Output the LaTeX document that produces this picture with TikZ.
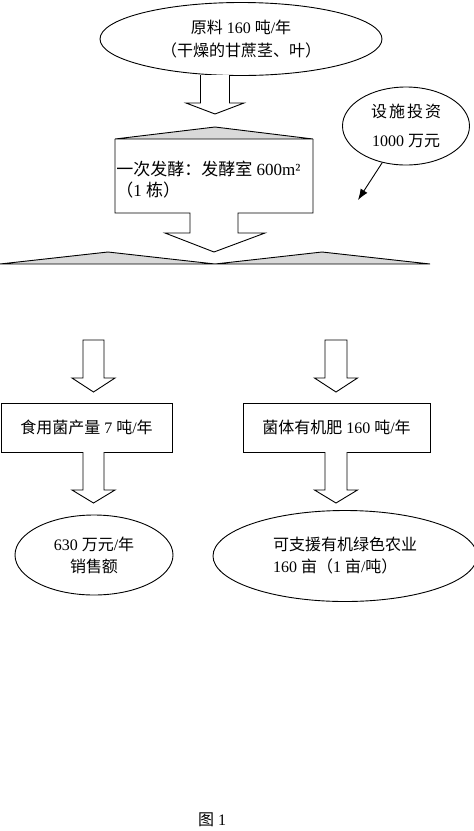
\documentclass[tikz,border=0pt]{standalone}
\usepackage{fontspec}
\setmainfont{Liberation Serif}
\newfontfamily\cjk{Noto Sans CJK SC}
\usepackage{tikz}
\usetikzlibrary{arrows,arrows.meta,shapes.geometric}
\newcommand{\zh}[1]{{\cjk #1}}
% block arrow: centre x, top y, head y, shaft half, head half, tip y
\newcommand{\fatarrow}[6]{\draw[arrowbody] (#1-#4,#2) -- (#1-#4,#3) -- (#1-#5,#3) -- (#1,#6) -- (#1+#5,#3) -- (#1+#4,#3) -- (#1+#4,#2)}

\begin{document}
\begin{tikzpicture}[x=1pt,y=-1pt,line width=0.9pt]
	\tikzset{every node/.style={font=\fontsize{16}{22}\selectfont, inner sep=0pt}}
	\tikzstyle{oval}=[draw, ellipse, align=center]
	\tikzstyle{plainbox}=[draw, rectangle, align=center]
	\tikzstyle{arrowbody}=[draw, fill=white, line join=miter]
	\tikzstyle{roof}=[draw, fill=gray!30]
	\useasboundingbox (0,0) rectangle (474,831);
	% top oval
	\draw (241,39) node (raw) [oval, minimum width=282, minimum height=73] {\zh{原料} 160 \zh{吨}/\zh{年}\\[1pt]\zh{（干燥的甘蔗茎、叶）}};
	\fatarrow{215}{75}{103}{14.5}{29}{114};
	% first fermentation box
	\draw[roof] (115,139) -- (215,127) -- (313,139) -- cycle;
	\draw (115,139) -- (115,213) -- (190,213) -- (190,233) -- (165,233) -- (214,252) -- (265,233) -- (238,233) -- (238,213) -- (313,213) -- (313,139);
	\draw (116,180) node (ferm) [anchor=west, align=left, font=\fontsize{17}{21}\selectfont] {\zh{一次发酵：发酵室} 600m²\\\zh{（}1 \zh{栋）}};
	\draw[roof] (0,264) -- (108,252) -- (215,264) -- (322,252) -- (430,264) -- cycle;
	% investment
	\draw (406,126) node (invest) [oval, minimum width=127, minimum height=78, font=\fontsize{16}{29}\selectfont] {\zh{设\kern2pt 施\kern2pt 投\kern2pt 资}\\1000 \zh{万元}};
	\coordinate (investtip) at (358,200);
	\draw[-{Latex[length=11pt,width=8pt]}] (invest) -- (investtip);
	% two branches
	\fatarrow{93.5}{340}{378}{10.5}{21.5}{392} -- cycle;
	\fatarrow{336}{340}{378}{11}{21.5}{392} -- cycle;
	\draw (86.5,427.5) node (mush) [plainbox, minimum width=171, minimum height=49] {\zh{食用菌产量} 7 \zh{吨}/\zh{年}};
	\draw (336.5,427.5) node (fert) [plainbox, minimum width=187, minimum height=49] {\zh{菌体有机肥} 160 \zh{吨}/\zh{年}};
	\fatarrow{93.5}{452}{490}{10.5}{21.5}{503};
	\fatarrow{336}{452}{490}{11}{21.5}{503};
	\draw (94,555) node (sales) [oval, minimum width=158, minimum height=80] {630 \zh{万元}/\zh{年}\\\zh{销售额}};
	\draw (345,556) node (farm) [oval, minimum width=264, minimum height=91, align=left] {\zh{可支援有机绿色农业}\\160 \zh{亩（}1 \zh{亩}/\zh{吨）}};
	% caption
	\draw (212,820) node (cap) {\zh{图} 1};
\end{tikzpicture}
\end{document}
